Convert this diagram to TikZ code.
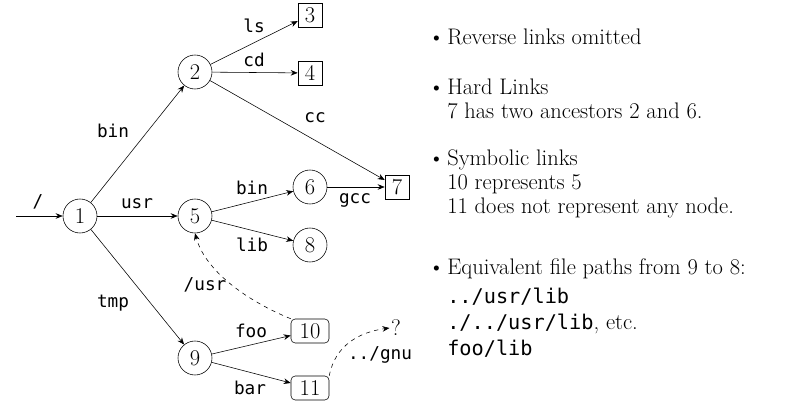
\documentclass[tikz,border=0pt]{standalone}
\usepackage{fontspec}
\setmonofont{DejaVu Sans Mono}[Scale=0.9]
\usetikzlibrary{arrows.meta}
\begin{document}
\begin{tikzpicture}[x=0.025cm,y=-0.025cm,font=\fontsize{16}{19}\selectfont,
  circ/.style={circle,draw,minimum size=0.85cm,inner sep=0pt},
  box/.style={rectangle,draw,minimum size=0.6cm,inner sep=1pt},
  rbox/.style={rectangle,rounded corners=3pt,draw,minimum width=0.95cm,minimum height=0.6cm,inner sep=1pt},
  lab/.style={font=\fontsize{14}{16}\ttfamily},
  edge/.style={-{Stealth[length=5pt,width=4pt]}},
  txt/.style={anchor=base west,inner sep=0pt}]
\useasboundingbox (0,0) rectangle (800,406);
\node[circ] (n1) at (80,216) {1};
\node[circ] (n2) at (195,72) {2};
\node[box] (n3) at (310,15) {3};
\node[box] (n4) at (310,73) {4};
\node[circ] (n5) at (195,216) {5};
\node[circ] (n6) at (310,187) {6};
\node[box] (n7) at (397,187) {7};
\node[circ] (n8) at (310,245) {8};
\node[circ] (n9) at (195,358) {9};
\node[rbox] (n10) at (310,331) {10};
\node[rbox] (n11) at (310,388) {11};
\node[inner sep=1pt] (q) at (396,328) {?};
\coordinate (start) at (16,216);
\draw[edge] (start) -- (n1);
\draw[edge] (n1) -- (n2);
\draw[edge] (n1) -- (n5);
\draw[edge] (n1) -- (n9);
\draw[edge] (n2) -- (n3);
\draw[edge] (n2) -- (n4);
\draw[edge] (n2) -- (n7);
\draw[edge] (n5) -- (n6);
\draw[edge] (n5) -- (n8);
\draw[edge] (n6) -- (n7);
\draw[edge] (n9) -- (n10);
\draw[edge] (n9) -- (n11);
\draw[edge,dashed] (n10.north west) .. controls (245,300) and (205,270) .. (n5.south);
\draw[edge,dashed] (n11.north east) .. controls (335,345) and (360,332) .. (q.west);
\node[lab] at (38,202) {/};
\node[lab] at (113,131) {bin};
\node[lab] at (137,204) {usr};
\node[lab] at (113,303) {tmp};
\node[lab] at (254,26) {ls};
\node[lab] at (254,60) {cd};
\node[lab] at (315,118) {cc};
\node[lab] at (252,188) {bin};
\node[lab] at (355,200) {gcc};
\node[lab] at (252,245) {lib};
\node[lab] at (205,285) {/usr};
\node[lab] at (251,331) {foo};
\node[lab] at (250,388) {bar};
\node[lab] at (380,355) {../gnu};
\foreach \y in {45,95,166,274} \node[txt] at (428,\y) {\textbullet};
\node[txt] at (447,45) {Reverse links omitted};
\node[txt] at (447,95) {Hard Links};
\node[txt] at (447,119) {7 has two ancestors 2 and 6.};
\node[txt] at (447,166) {Symbolic links};
\node[txt] at (447,190) {10 represents 5};
\node[txt] at (447,214) {11 does not represent any node.};
\node[txt] at (447,274) {Equivalent file paths from 9 to 8:};
\node[txt] at (447,303) {\ttfamily ../usr/lib};
\node[txt] at (447,329) {\texttt{./../usr/lib}, etc.};
\node[txt] at (447,355) {\ttfamily foo/lib};
\end{tikzpicture}
\end{document}
